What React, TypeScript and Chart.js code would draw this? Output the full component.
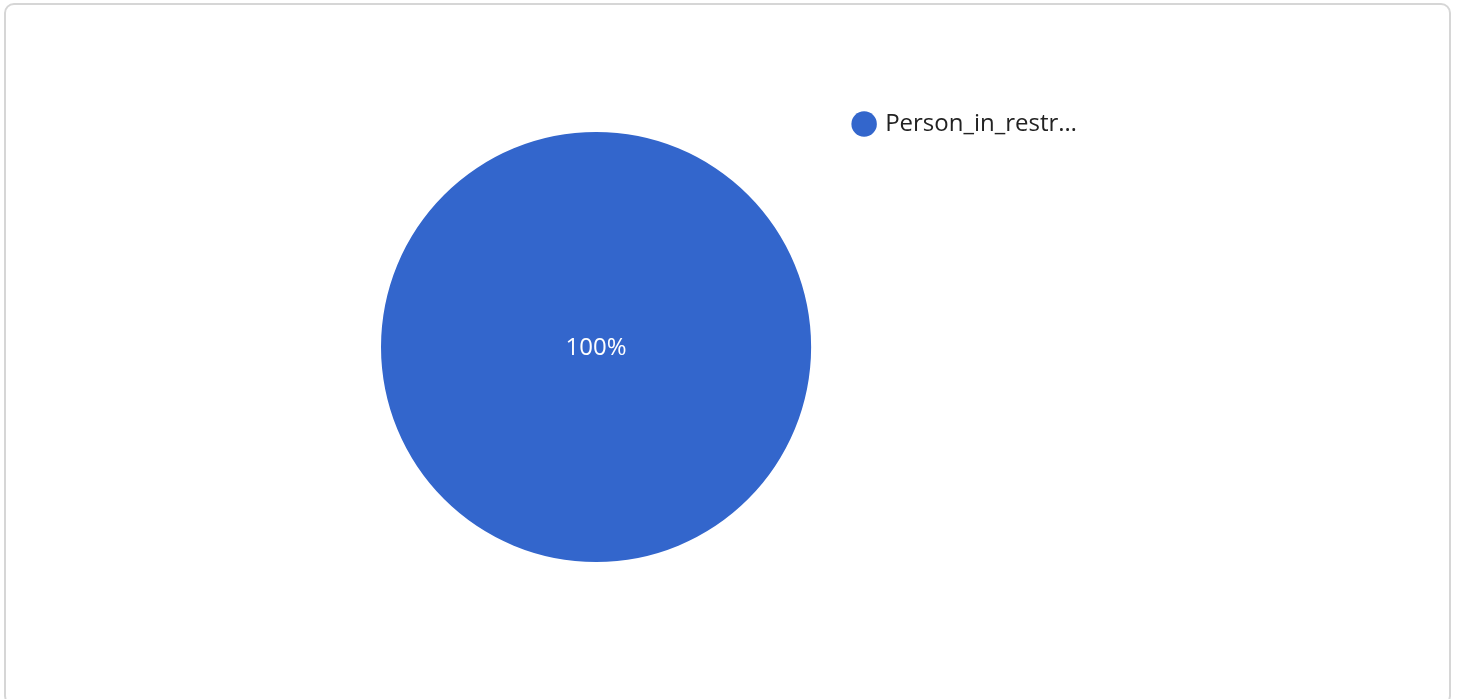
import React, { useEffect, useRef } from "react";
import { Chart, registerables } from "chart.js";

Chart.register(...registerables);

const categories = ["Person_in_restricted_area"];
const seriesValues = [1];
const sliceColors = ["#3366CC"];
const legendLabels = ["Person_in_restr…"];

const FONT = "'Open Sans', 'Noto Sans', sans-serif";

const centerLabelPlugin = {
  id: "centerLabel",
  afterDatasetsDraw(chart: any) {
    const meta = chart.getDatasetMeta(0);
    const data = chart.data.datasets[0].data as number[];
    const total = data.reduce((a, b) => a + b, 0);
    const ctx = chart.ctx;
    ctx.save();
    ctx.fillStyle = "#ffffff";
    ctx.font = `24px ${FONT}`;
    ctx.textAlign = "center";
    ctx.textBaseline = "middle";
    meta.data.forEach((arc: any, i: number) => {
      const pct = Math.round((data[i] / total) * 100);
      let x: number, y: number;
      if (data[i] === total) {
        x = arc.x;
        y = arc.y;
      } else {
        const p = arc.tooltipPosition();
        x = p.x;
        y = p.y;
      }
      ctx.fillText(`${pct}%`, x, y + 1);
    });
    ctx.restore();
  },
};

export default function App() {
  const ref = useRef<HTMLCanvasElement | null>(null);

  useEffect(() => {
    document.body.style.margin = "0";
    document.body.style.overflow = "hidden";
    if (!ref.current) return;
    const chart = new Chart(ref.current, {
      type: "pie",
      data: {
        labels: categories,
        datasets: [
          {
            data: seriesValues,
            backgroundColor: sliceColors,
            borderWidth: 0,
          },
        ],
      },
      options: {
        animation: false,
        responsive: false,
        layout: {
          padding: { left: 381, right: 371, top: 68, bottom: 73 },
        },
        plugins: {
          tooltip: { enabled: false },
          legend: {
            position: "right",
            align: "start",
            labels: {
              usePointStyle: true,
              pointStyle: "circle",
              boxWidth: 18,
              boxHeight: 18,
              padding: 44,
              color: "#222222",
              font: { family: FONT, size: 24 },
              generateLabels: (c: any) =>
                categories.map((_, i) => ({
                  text: legendLabels[i],
                  fillStyle: sliceColors[i],
                  strokeStyle: sliceColors[i],
                  lineWidth: 0,
                  pointStyle: "circle",
                  hidden: false,
                  index: i,
                  fontColor: "#222222",
                })),
            },
          },
        },
      },
      plugins: [centerLabelPlugin],
    });
    return () => chart.destroy();
  }, []);

  return (
    <div>
      <div
        style={{
          position: "fixed",
          left: 4,
          top: 3,
          width: 1447,
          height: 703,
          boxSizing: "border-box",
          border: "2px solid #d6d6d6",
          borderRadius: 10,
          background: "#fff",
        }}
      />
      <canvas
        ref={ref}
        width={1458}
        height={699}
        style={{ position: "fixed", left: 0, top: 0, width: 1458, height: 699 }}
      />
    </div>
  );
}
